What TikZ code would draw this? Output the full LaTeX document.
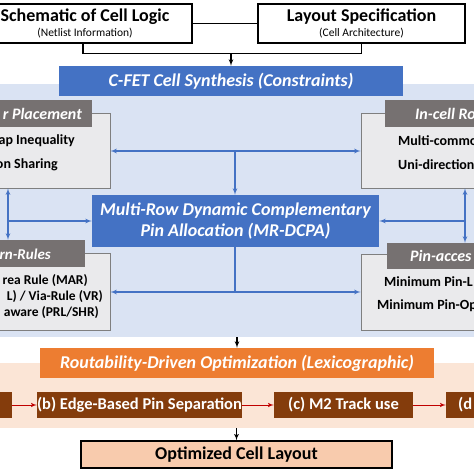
\documentclass[tikz,border=0pt]{standalone}
\usepackage{fontspec}
\setmainfont{Carlito}
\usetikzlibrary{arrows, positioning}
\definecolor{synblue}{HTML}{4472C4}
\definecolor{panelblue}{HTML}{DAE3F3}
\definecolor{boxfill}{HTML}{EAEAEC}
\definecolor{boxgray}{HTML}{7F7F7F}
\definecolor{headgray}{HTML}{767171}
\definecolor{peach}{HTML}{FBE5D6}
\definecolor{optorange}{HTML}{ED7D31}
\definecolor{stepbrown}{HTML}{843C0C}
\definecolor{outfill}{HTML}{F8CBAD}
\definecolor{flowred}{HTML}{C00000}

\begin{document}
\begin{tikzpicture}[
      x=1pt, y=-1pt,
      inputbox/.style={rectangle, draw, line width=1.2pt, fill=white, minimum height=39pt, inner sep=0pt, align=center, font=\fontsize{11.5}{15.5}\selectfont},
      bluebar/.style={rectangle, fill=synblue, text=white, inner sep=0pt, font=\bfseries\itshape\fontsize{18}{20}\selectfont},
      orangebar/.style={rectangle, fill=optorange, text=white, inner sep=0pt, font=\bfseries\itshape\fontsize{18}{20}\selectfont},
      panel/.style={rectangle, inner sep=0pt, minimum width=490pt},
      constbox/.style={rectangle, draw=boxgray, line width=0.8pt, fill=boxfill, inner sep=0pt},
      headbox/.style={rectangle, fill=headgray, inner sep=0pt, minimum height=27pt},
      headtext/.style={text=white, inner sep=0pt, font=\bfseries\itshape\fontsize{16}{18}\selectfont},
      itemtext/.style={inner sep=0pt, font=\bfseries\fontsize{14}{16}\selectfont},
      smallitem/.style={inner sep=0pt, font=\bfseries\fontsize{13.5}{15}\selectfont},
      stepbox/.style={rectangle, fill=stepbrown, text=white, inner sep=0pt, minimum height=26pt, font=\bfseries\fontsize{16.5}{18}\selectfont},
      outbox/.style={rectangle, draw, line width=1.2pt, fill=outfill, inner sep=0pt, font=\bfseries\fontsize{18}{20}\selectfont},
      line/.style={draw, line width=1.2pt},
      blkarrow/.style={draw, line width=1.2pt, -latex'},
      link/.style={draw=synblue, line width=1.2pt},
      flow/.style={draw=flowred, line width=1pt, -latex'}
    ]
    \useasboundingbox (0,0) rectangle (474,474);
    \clip (0,0) rectangle (474,474);

    % Backgrounds
    \node[panel, fill=panelblue, minimum height=253pt] (synpanel) at (237,210.5) {};
    \node[panel, fill=peach, minimum height=65pt] (optpanel) at (237,395.5) {};

    % Inputs
    \node[inputbox, minimum width=214pt] (schematic) at (85,23.5)
      {{\bfseries\fontsize{18}{15.5}\selectfont Schematic of Cell Logic}\\(Netlist Information)};
    \node[inputbox, minimum width=207pt] (layoutspec) at (361.5,23.5)
      {{\bfseries\fontsize{18}{15.5}\selectfont Layout Specification}\\(Cell Architecture)};
    \node[bluebar, minimum width=344pt, minimum height=30pt] (cfet) at (231,81) {C-FET Cell Synthesis (Constraints)};

    % Constraint boxes
    \node[constbox, minimum width=150pt, minimum height=75pt] (placebox) at (35,150.5) {};
    \node[headbox, minimum width=132pt] (placehead) at (26,113.5) {};
    \node[headtext, anchor=east] (placetitle) at (82,113.5) {r Placement};
    \node[itemtext, anchor=east] (overlap) at (75,141) {ap Inequality};
    \node[itemtext, anchor=east] (sharing) at (58,165) {on Sharing};

    \node[constbox, minimum width=159pt, minimum height=75pt] (routebox) at (440.5,150.5) {};
    \node[headbox, minimum width=135pt] (routehead) at (452.5,113.5) {};
    \node[headtext, anchor=west] (routetitle) at (415,113.5) {In-cell Ro};
    \node[itemtext, anchor=west] (multicommo) at (398,141) {Multi-commo};
    \node[itemtext, anchor=west] (unidir) at (398,165) {Uni-direction};

    \node[bluebar, align=center, minimum width=287pt, minimum height=52pt, font=\bfseries\itshape\fontsize{18}{21}\selectfont] (mrdcpa) at (235.5,221)
      {Multi-Row Dynamic Complementary\\Pin Allocation (MR-DCPA)};

    \node[constbox, minimum width=150pt, minimum height=77pt] (rulebox) at (35,291.5) {};
    \node[headbox, minimum width=125pt] (rulehead) at (22.5,253.5) {};
    \node[headtext, anchor=east, font=\bfseries\itshape\fontsize{15}{17}\selectfont] (ruletitle) at (51,254) {rn-Rules};
    \node[smallitem, anchor=east] (mar) at (88,281) {rea Rule (MAR)};
    \node[smallitem, anchor=east] (viarule) at (103,297) {L) / Via-Rule (VR)};
    \node[smallitem, anchor=east] (prlshr) at (99,313) {aware (PRL/SHR)};

    \node[constbox, minimum width=159pt, minimum height=76pt] (pinbox) at (440.5,292) {};
    \node[headbox, minimum width=133pt, minimum height=26pt] (pinhead) at (453.5,256) {};
    \node[headtext, anchor=west] (pintitle) at (410,256) {Pin-acces};
    \node[itemtext, anchor=west] (minlen) at (384,282) {Minimum Pin-L};
    \node[itemtext, anchor=west] (minopen) at (377,306) {Minimum Pin-Op};

    % Optimization
    \node[orangebar, minimum width=394pt, minimum height=30pt] (routability) at (237,363) {Routability-Driven Optimization (Lexicographic)};
    \node[stepbox, minimum width=32pt] (stepa) at (-4,405) {};
    \node[stepbox, minimum width=205pt] (stepb) at (139.5,405) {(b) Edge-Based Pin Separation};
    \node[stepbox, minimum width=139pt] (stepc) at (343.5,405) {(c) M2 Track use};
    \node[stepbox, minimum width=74pt] (stepd) at (483,405) {};
    \node[stepbox, anchor=west, minimum height=0pt] (steptext) at (458,405) {(d};
    \node[outbox, minimum width=311pt, minimum height=27pt] (optimized) at (236.5,454.5) {Optimized Cell Layout};

    % Connections
    \draw[line] (schematic) -- (layoutspec);
    \draw[line] (schematic.south) ++(-2,0) -- ++(0,10) coordinate (topjoin) -| (layoutspec.south);
    \draw[blkarrow] (topjoin -| cfet.north) -- (cfet.north);

    \coordinate (tbus) at (235,151);
    \coordinate (lbus) at (8,221);
    \coordinate (rbus) at (465,221);
    \coordinate (bbus) at (235,292);
    \draw[link, latex'-latex'] (placebox.east |- tbus) -- (routebox.west |- tbus);
    \draw[link, -latex'] (tbus) -- (tbus |- mrdcpa.north);
    \draw[link, latex'-latex'] (lbus |- placebox.south) -- (lbus |- rulehead.north);
    \draw[link, -latex'] (lbus) -- (lbus -| mrdcpa.west);
    \draw[link, latex'-latex'] (rbus |- routebox.south) -- (rbus |- pinhead.north);
    \draw[link, -latex'] (rbus) -- (rbus -| mrdcpa.east);
    \draw[link, latex'-latex'] (rulebox.east |- bbus) -- (pinbox.west |- bbus);
    \draw[link] (bbus |- mrdcpa.south) -- (bbus);

    \draw[blkarrow] (synpanel.south -| routability.north) -- (routability.north);
    \draw[flow] (stepa) -- (stepb);
    \draw[flow] (stepb) -- (stepc);
    \draw[flow] (stepc) -- (stepd);
    \draw[blkarrow] (optpanel.south -| optimized.north) -- (optimized.north);
  \end{tikzpicture}
\end{document}
